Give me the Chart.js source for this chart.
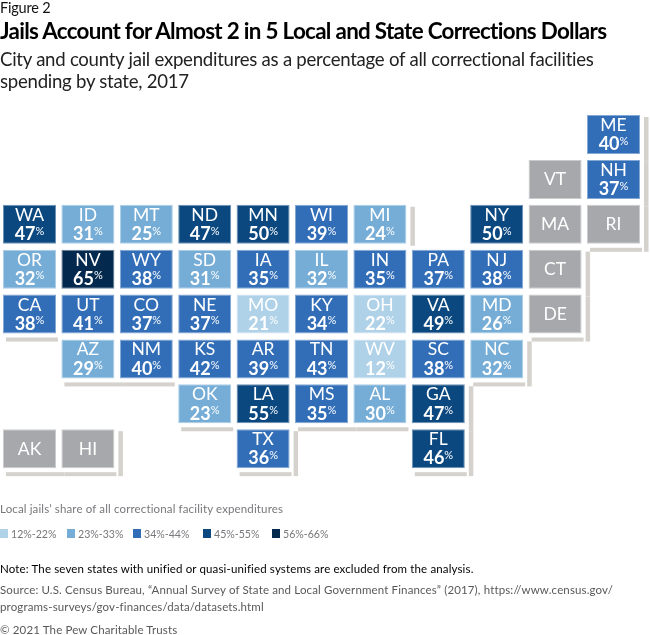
<!DOCTYPE html>
<html lang="en">
<head>
<meta charset="utf-8">
<title>Jails Account for Almost 2 in 5 Local and State Corrections Dollars</title>
<script src="https://cdn.jsdelivr.net/npm/chart.js@4"></script>
<style>
  html, body { margin: 0; padding: 0; background: #fff; }
  #page { position: relative; width: 650px; height: 635px; overflow: hidden; font-family: Lato, sans-serif; }
  #page canvas { position: absolute; left: 0; top: 0; }
  .line { position: absolute; left: 0; white-space: nowrap; }
  #figure { top: -1px; font-size: 14.5px; line-height: 18px; color: #111; letter-spacing: -0.2px; }
  #headline { top: 17px; font-size: 22.4px; line-height: 28px; font-weight: 700; color: #000; letter-spacing: -0.69px; }
  .sub { font-size: 18.6px; line-height: 22px; color: #222; letter-spacing: -0.26px; }
  #legendTitle { top: 502px; font-size: 11.5px; line-height: 14px; color: #77787b; letter-spacing: 0.14px; }
  .key { position: absolute; top: 527px; font-size: 10.6px; line-height: 14px; color: #77787b; padding-left: 11px; white-space: nowrap; }
  .key i { position: absolute; left: 0; top: 2px; width: 8px; height: 9px; }
  .foot { font-size: 11.5px; line-height: 14px; color: #58595b; letter-spacing: 0.14px; }
</style>
</head>
<body>
<div id="page">
  <canvas id="tiles" width="650" height="635"></canvas>
  <div class="line" id="figure">Figure 2</div>
  <div class="line" id="headline">Jails Account for Almost 2 in 5 Local and State Corrections Dollars</div>
  <div class="line sub" style="top:48px">City and county jail expenditures as a percentage of all correctional facilities</div>
  <div class="line sub" style="top:70px">spending by state, 2017</div>
  <div class="line" id="legendTitle">Local jails’ share of all correctional facility expenditures</div>
  <div id="keys"></div>
  <div class="line foot" style="top:562px;color:#000">Note: The seven states with unified or quasi-unified systems are excluded from the analysis.</div>
  <div class="line foot" style="top:583px">Source: U.S. Census Bureau, “Annual Survey of State and Local Government Finances” (2017), https://www.census.gov/</div>
  <div class="line foot" style="top:600px">programs-surveys/gov-finances/data/datasets.html</div>
  <div class="line foot" style="top:623px">© 2021 The Pew Charitable Trusts</div>
</div>
<script>
// Tile grid: each state sits at a column and row; null means the state is excluded.
const stateCodes = ['ME','VT','NH','WA','ID','MT','ND','MN','WI','MI','NY','MA','RI',
  'OR','NV','WY','SD','IA','IL','IN','PA','NJ','CT',
  'CA','UT','CO','NE','MO','KY','OH','VA','MD','DE',
  'AZ','NM','KS','AR','TN','WV','SC','NC',
  'OK','LA','MS','AL','GA',
  'AK','HI','TX','FL'];
const jailShares = [40,null,37,47,31,25,47,50,39,24,50,null,null,
  32,65,38,31,35,32,35,37,38,null,
  38,41,37,37,21,34,22,49,26,null,
  29,40,42,39,43,12,38,32,
  23,55,35,30,47,
  null,null,36,46];
const tileColumns = [10,9,10,0,1,2,3,4,5,6,8,9,10,
  0,1,2,3,4,5,6,7,8,9,
  0,1,2,3,4,5,6,7,8,9,
  1,2,3,4,5,6,7,8,
  3,4,5,6,7,
  0,1,4,7];
const tileRows = [0,1,1,2,2,2,2,2,2,2,2,2,2,
  3,3,3,3,3,3,3,3,3,3,
  4,4,4,4,4,4,4,4,4,4,
  5,5,5,5,5,5,5,5,
  6,6,6,6,6,
  7,7,7,7];
const columnLabels = ['0','1','2','3','4','5','6','7','8','9','10'];
const rowCount = 8;
const binLabels = ['12%-22%','23%-33%','34%-44%','45%-55%','56%-66%'];
const binUpperBounds = [22,33,44,55,66];
const binColors = ['#b0d2e8','#76add6','#326eb7','#0a487f','#03294f'];
const keyOffsets = [0,67,133,203,272];
const excludedColor = '#a7a8ab';
const stripColor = '#d5d2ce';
const tileDepth = 0.87;

function tileColor(share) {
  if (share === null) return excludedColor;
  return binColors[binUpperBounds.findIndex(bound => share <= bound)];
}

// Legend swatches and captions.
const keys = document.getElementById('keys');
binLabels.forEach((label, i) => {
  const el = document.createElement('div');
  el.className = 'key';
  el.style.left = keyOffsets[i] + 'px';
  el.innerHTML = '<i style="background:' + binColors[i] + '"></i>' + label;
  keys.appendChild(el);
});

// One floating-bar dataset per row of the tile grid.
const datasets = Array.from({ length: rowCount }, (_, row) => {
  const data = columnLabels.map(() => null);
  const fill = columnLabels.map(() => 'transparent');
  const edge = columnLabels.map(() => 'transparent');
  tileRows.forEach((r, t) => {
    if (r !== row) return;
    data[tileColumns[t]] = [row, row + tileDepth];
    fill[tileColumns[t]] = tileColor(jailShares[t]);
    edge[tileColumns[t]] = tileColor(jailShares[t]) + '99';
  });
  return { label: 'Row ' + row, data, backgroundColor: fill, borderColor: edge, borderWidth: 1, borderSkipped: false };
});

const occupied = new Set(tileColumns.map((c, t) => c + ',' + tileRows[t]));
const hasTile = (c, r) => occupied.has(c + ',' + r);

// Grey offset edge along the outer south and east sides of the tile block.
const stripPlugin = {
  id: 'tileStrips',
  beforeDatasetsDraw(chart) {
    const { ctx } = chart;
    ctx.save();
    ctx.fillStyle = stripColor;
    tileColumns.forEach((c, t) => {
      const r = tileRows[t];
      const el = chart.getDatasetMeta(r).data[c];
      const left = el.x - el.width / 2, right = el.x + el.width / 2;
      const top = Math.min(el.y, el.base), bottom = Math.max(el.y, el.base);
      if (!hasTile(c, r + 1)) {
        const joins = hasTile(c + 1, r) && !hasTile(c + 1, r + 1);
        const end = joins ? right + (chart.scales.x.getPixelForValue(c + 1) - el.x - el.width) + 3 : right + 2;
        ctx.fillRect(left + 3, bottom + 4, end - left - 3, 4);
      }
      if (!hasTile(c + 1, r)) {
        const joins = hasTile(c, r + 1) && !hasTile(c + 1, r + 1);
        const end = joins ? bottom + (chart.scales.y.getPixelForValue(r + 1) - bottom) + 2 : hasTile(c, r + 1) ? bottom + 2 : bottom + 8;
        ctx.fillRect(right + 4, top + 2, 4.5, end - top - 2);
      }
    });
    ctx.restore();
  }
};

// State code and share printed inside each tile, with a raised percent sign.
const labelPlugin = {
  id: 'tileLabels',
  afterDatasetsDraw(chart) {
    const { ctx } = chart;
    ctx.save();
    ctx.fillStyle = '#fff';
    ctx.textBaseline = 'alphabetic';
    stateCodes.forEach((code, t) => {
      const el = chart.getDatasetMeta(tileRows[t]).data[tileColumns[t]];
      const top = Math.min(el.y, el.base);
      const share = jailShares[t];
      ctx.textAlign = 'center';
      ctx.font = '400 17.5px Lato';
      if (share === null) {
        ctx.fillText(code, el.x, top + 25.5);
        return;
      }
      ctx.fillText(code, el.x, top + 16);
      const digits = String(share);
      ctx.font = '700 18px Lato';
      const digitWidth = ctx.measureText(digits).width;
      ctx.font = '400 11px Lato';
      const signWidth = ctx.measureText('%').width;
      const start = el.x - (digitWidth + signWidth) / 2;
      ctx.textAlign = 'left';
      ctx.font = '700 18px Lato';
      ctx.fillText(digits, start, top + 35.3);
      ctx.font = '400 11px Lato';
      ctx.fillText('%', start + digitWidth, top + 29.8);
    });
    ctx.restore();
  }
};

new Chart(document.getElementById('tiles'), {
  type: 'bar',
  data: { labels: columnLabels, datasets },
  plugins: [stripPlugin, labelPlugin],
  options: {
    responsive: false,
    animation: false,
    grouped: false,
    devicePixelRatio: 1,
    categoryPercentage: 0.9075,
    barPercentage: 1,
    layout: { padding: { left: 0.3, right: 7.3, top: 115, bottom: 161 } },
    scales: {
      x: { display: false },
      y: { display: false, min: 0, max: rowCount, reverse: true }
    },
    plugins: { legend: { display: false }, tooltip: { enabled: false }, title: { display: false } }
  }
});
</script>
</body>
</html>
